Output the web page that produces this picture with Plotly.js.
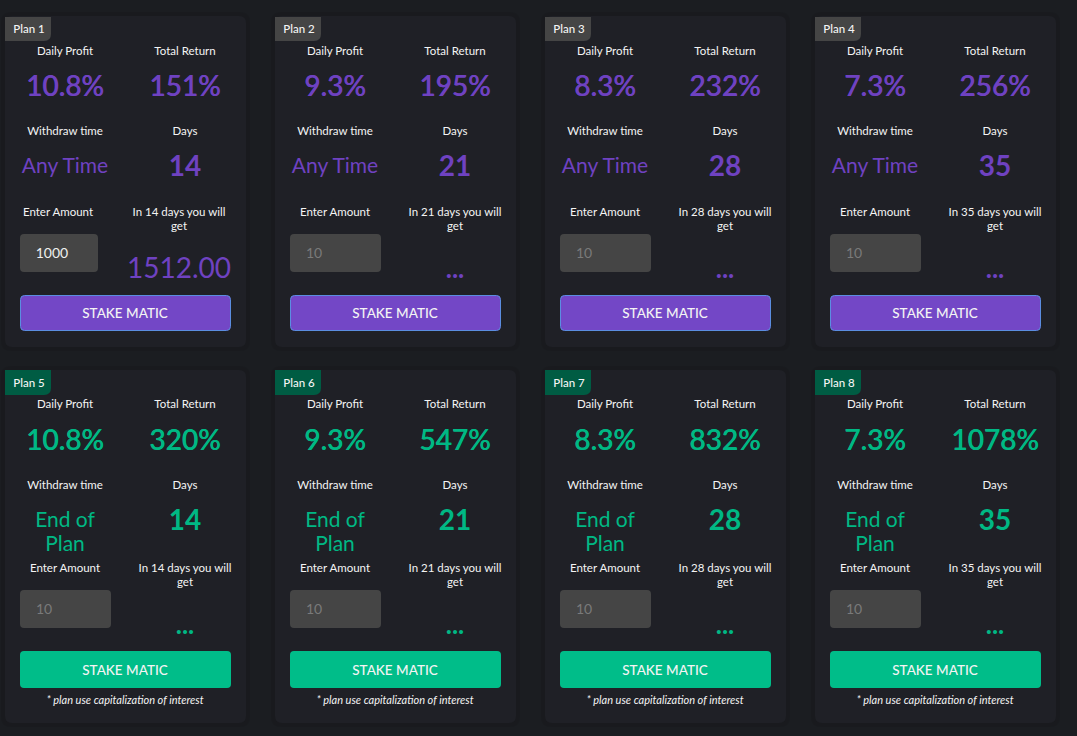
<!DOCTYPE html>
<html><head><meta charset="utf-8">
<script src="https://cdn.plot.ly/plotly-3.0.1.min.js"></script>
<style>html,body{margin:0;padding:0;background:#1b1d21;overflow:hidden}#c{width:1077px;height:736px}</style>
</head><body><div id="c"></div>
<script>
const planNames=["Plan 1","Plan 2","Plan 3","Plan 4","Plan 5","Plan 6","Plan 7","Plan 8"];
const dailyProfit=["10.8%","9.3%","8.3%","7.3%","10.8%","9.3%","8.3%","7.3%"];
const totalReturn=["151%","195%","232%","256%","320%","547%","832%","1078%"];
const days=[14,21,28,35,14,21,28,35];
const amounts=["1000","10","10","10","10","10","10","10"];
const results=["1512.00","...","...","...","...","...","...","..."];
const PURPLE="#6f42c1",GREEN="#00b884",TXT="#f4f4f4";
const W=1077,H=736;
const shapes=[],buckets={};
function rr(x0,y0,x1,y1,r,fill,line,corners){
  const c=corners||[r,r,r,r];
  const p=`M${x0+c[0]},${y0} L${x1-c[1]},${y0} Q${x1},${y0} ${x1},${y0+c[1]} L${x1},${y1-c[2]} Q${x1},${y1} ${x1-c[2]},${y1} L${x0+c[3]},${y1} Q${x0},${y1} ${x0},${y1-c[3]} L${x0},${y0+c[0]} Q${x0},${y0} ${x0+c[0]},${y0} Z`;
  shapes.push({type:"path",path:p,xref:"x",yref:"y",fillcolor:fill,line:line?{color:line,width:1}:{width:0},layer:"below"});
}
function t(style,x,y,s,color,size,weight,italic,shadow){
  if(!buckets[style])buckets[style]={x:[],y:[],text:[],color,size,weight,italic,shadow};
  const b=buckets[style];b.x.push(x);b.y.push(y);b.text.push(s);
}
planNames.forEach((name,i)=>{
  const col=i%4,top=i<4;
  const ox=5+270*col;
  const c=top?PURPLE:GREEN;
  const key=top?"p":"g";
  const first=i===0;
  const cy0=top?16:370,cy1=top?347:723;
  const semi=`0.45px 0 0 ${c}`;
  rr(ox-4,cy0-4,ox+245,cy1+4,10,"rgba(0,0,0,0.07)");
  rr(ox,cy0,ox+241,cy1,7,"#1f2026");
  rr(ox,top?17:370,ox+46,top?41:395,0,top?"#454545":"#005c43",null,[0,0,7,0]);
  t("plan",ox+24,top?30.5:384,name,TXT,11.5,500);
  const rowLab=top?52:405.5,rowBig=top?89:442.5,rowW=top?132.5:486,rowV=top?168:521.5;
  t("label",ox+60,rowLab,"Daily Profit",TXT,11.5,400);
  t("label",ox+180,rowLab,"Total Return",TXT,11.5,400);
  t("big"+key,ox+60,rowBig,dailyProfit[i],c,28,500,false,semi);
  t("big"+key,ox+180,rowBig,totalReturn[i],c,28,500,false,semi);
  t("label",ox+60,rowW,"Withdraw time",TXT,11.5,400);
  t("label",ox+180,rowW,"Days",TXT,11.5,400);
  if(top) t("wd"+key,ox+60,rowV,"Any Time",c,21,400);
  else { t("wd"+key,ox+60,rowV,"End of",c,21,400); t("wd"+key,ox+60,rowV+24,"Plan",c,21,400); }
  t("day"+key,ox+180,rowV+1,String(days[i]),c,28,700);
  const rowE=top?213:569;
  t("label",ox+(first?53:60),rowE,"Enter Amount",TXT,11.5,400);
  t("label",ox+(first?174:180),rowE,`In ${days[i]} days you will`,TXT,11.5,400);
  t("label",ox+(first?174:180),rowE+14,"get",TXT,11.5,400);
  const iy0=top?234:590,iy1=top?272:628;
  rr(ox+15,iy0,ox+(first?93:106),iy1,4,"#454545");
  if(first) t("val",ox+47,254,amounts[i],"#f0f0f0",14,400);
  else t("ph",ox+39,top?254:610,amounts[i],"#7a7a7a",14,400);
  if(first) t("res",ox+174,271,results[i],c,28,400);
  else t("dots"+key,ox+180,top?271.5:627.5,results[i],c,26,700);
  const by0=top?295:651,by1=top?331:688;
  if(top) rr(ox+15.5,by0+.5,ox+225.5,by1-.5,4,"#7347c6","#5b8de0");
  else rr(ox+15,by0,ox+226,by1,4,"#00bd89");
  t("btn",ox+120,top?315:671.5,"STAKE MATIC","#f4f4f4",13.5,500);
  if(!top) t("note",ox+120,701,"* plan use capitalization of interest",TXT,11,400,true);
});
const traces=Object.values(buckets).map(b=>({
  type:"scatter",mode:"text",x:b.x,y:b.y,text:b.text,textposition:"middle center",cliponaxis:false,hoverinfo:"skip",showlegend:false,
  textfont:Object.assign({family:"Lato",size:b.size,color:b.color,weight:b.weight,style:b.italic?"italic":"normal"},b.shadow?{shadow:b.shadow}:{})
}));
Plotly.newPlot("c",traces,{
  width:W,height:H,margin:{l:0,r:0,t:0,b:0},paper_bgcolor:"#1b1d21",plot_bgcolor:"#1b1d21",showlegend:false,
  xaxis:{range:[0,W],visible:false,fixedrange:true},
  yaxis:{range:[H,0],visible:false,fixedrange:true},
  shapes:shapes
},{displayModeBar:false,staticPlot:true});
</script></body></html>
